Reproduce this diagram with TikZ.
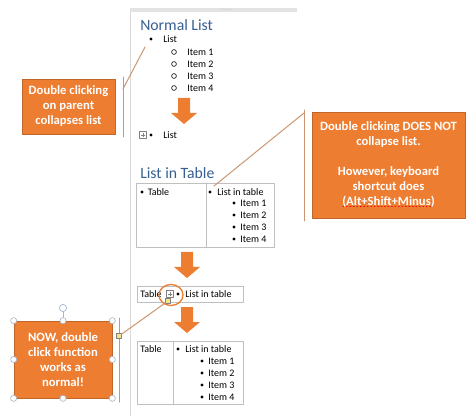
\documentclass[tikz,border=0pt]{standalone}
\usepackage{fontspec}
\setmainfont{Carlito}
\definecolor{noteorange}{HTML}{ED7D31}
\definecolor{noteedge}{HTML}{C0662A}
\definecolor{leadertan}{HTML}{CC9670}
\definecolor{headblue}{HTML}{365F91}
\definecolor{rulegray}{HTML}{BFBFBF}
\definecolor{gripblue}{HTML}{A8B8CC}
\definecolor{gripyellow}{HTML}{F3E58A}
\begin{document}
\begin{tikzpicture}[x=0.75pt, y=-0.75pt, font=\fontsize{7.5}{9}\selectfont, line join=round, line cap=round,
  txt/.style={anchor=west, inner sep=0pt},
  head/.style={txt, text=headblue, font=\fontsize{11.8}{13}\selectfont},
  note/.style={fill=noteorange, draw=noteedge, line width=0.5pt, text=white, align=center, inner sep=0pt,
    font=\fontsize{9.5}{11.25}\selectfont\bfseries},
  leader/.style={draw=leadertan, line width=0.75pt},
  cell/.style={draw=rulegray, line width=0.6pt},
  dot/.style={circle, fill=black, inner sep=0pt, minimum size=2.4pt},
  ring/.style={circle, draw=black, line width=0.45pt, inner sep=0pt, minimum size=3.6pt},
  plusbox/.style={draw=gray, fill=white, line width=0.4pt, inner sep=0pt, minimum size=5pt,
    path picture={\draw[gray, line width=0.4pt]
      ([xshift=1.1pt]path picture bounding box.west) -- ([xshift=-1.1pt]path picture bounding box.east)
      ([yshift=-1.1pt]path picture bounding box.north) -- ([yshift=1.1pt]path picture bounding box.south);}},
  grip/.style={circle, draw=gripblue, fill=white, line width=0.5pt, inner sep=0pt, minimum size=4.6pt},
  yhandle/.style={draw=gray, fill=gripyellow, line width=0.4pt, inner sep=0pt, minimum size=3.4pt},
  downarrow/.pic={\fill[noteorange] (-6,-13) -- (6,-13) -- (6,2) -- (13,2) -- (0,13) -- (-13,2) -- (-6,2) -- cycle;}
]
\useasboundingbox (0,0) rectangle (474,416);
\fill[gray!22] (130,8.5) rectangle (297,12);
\foreach \d in {221,224,227,230} \fill[gray!70] (\d,9.2) circle (0.5);
\draw[gray!30, line width=0.6pt] (130,12) -- (130,416);

\node[head] (nl) at (140,25) {Normal List};
\node[dot] (b0) at (151,39) {};
\node[txt] (l0) at (163,39) {List};
\foreach \k/\y in {1/52,2/64,3/76,4/88} {
  \node[ring] (r\k) at (174,\y) {};
  \node[txt] (it\k) at (187,\y) {Item \k};
}
\pic (a1) at (184,111) {downarrow};
\node[plusbox] (pb1) at (143,135) {};
\node[dot] (b1) at (151,135) {};
\node[txt] (l1) at (163,135) {List};

\node[head] (lt) at (140,173) {List in Table};
\draw[cell] (136,183) rectangle (274,247);
\draw[cell] (206,183) -- (206,247);
\node[dot] (tb0) at (142,192) {};
\node[txt] (tt0) at (147.5,192) {Table};
\node[dot] (tb1) at (210,192) {};
\node[txt] (tl1) at (217,192) {List in table};
\foreach \k/\y in {1/203,2/215,3/227,4/239} {
  \node[dot] (ta\k) at (234,\y) {};
  \node[txt] (ti\k) at (240,\y) {Item \k};
}
\pic (a2) at (187,265) {downarrow};

\draw[cell] (137,286) rectangle (243,302);
\node[txt] (ct) at (140,294) {Table};
\node[plusbox] (pb2) at (170,294) {};
\node[dot] (b2) at (178,294) {};
\node[txt] (cl) at (185,294) {List in table};
\draw[noteorange, line width=1pt] (171,295) ellipse [x radius=12, y radius=10.5];
\pic (a3) at (187,320) {downarrow};

\draw[cell] (137,341) rectangle (243,404);
\draw[cell] (173,341) -- (173,404);
\node[txt] (et) at (140,349) {Table};
\node[dot] (eb) at (178,349) {};
\node[txt] (el) at (185,349) {List in table};
\foreach \k/\y in {1/361,2/373,3/385,4/397} {
  \node[dot] (ea\k) at (202,\y) {};
  \node[txt] (ei\k) at (208,\y) {Item \k};
}

\node[note, minimum width=69.75pt, minimum height=41.25pt] (note1) at (68.5,106.5)
  {Double clicking\\on parent\\collapses list};
\coordinate (n1top) at (123,77);
\coordinate (n1bot) at (123,137);
\coordinate (n1knee) at (123,89);
\coordinate (n1tip) at (145,47);
\draw[leader] (n1top) -- (n1bot);
\draw[leader] (n1knee) -- (n1tip);

\node[note, minimum width=114.75pt, minimum height=79.5pt] (note2) at (388.5,165)
  {Double clicking DOES NOT\\collapse list.\\[11.25pt]However, keyboard\\shortcut does\\(Alt+Shift+Minus)};
\draw[red, line width=0.6pt, dotted] (343,206.5) -- (432,206.5);
\coordinate (n2top) at (304,110);
\coordinate (n2bot) at (304,221);
\coordinate (n2knee) at (304,113);
\coordinate (n2tip) at (214,186);
\draw[leader] (n2top) -- (n2bot);
\draw[leader] (n2knee) -- (n2tip);

\node[note, minimum width=73.5pt, minimum height=57.75pt] (note3) at (63,359.5)
  {NOW, double\\click function\\works as\\normal!};
\coordinate (n3top) at (119,318);
\coordinate (n3bot) at (119,402);
\draw[leader] (n3top) -- (n3bot);
\node[yhandle] (h3a) at (119,336) {};
\node[yhandle] (h3b) at (168,301) {};
\draw[leader] (h3a) -- (h3b);
\draw[gripblue, line width=0.5pt] (note3.north) -- (63,311);
\node[grip, minimum size=5.5pt] (rot) at (63,308) {};
\foreach \a/\n in {north west/1, north/2, north east/3, east/4, south east/5, south/6, south west/7, west/8}
  \node[grip] (g\n) at (note3.\a) {};
\end{tikzpicture}
\end{document}
